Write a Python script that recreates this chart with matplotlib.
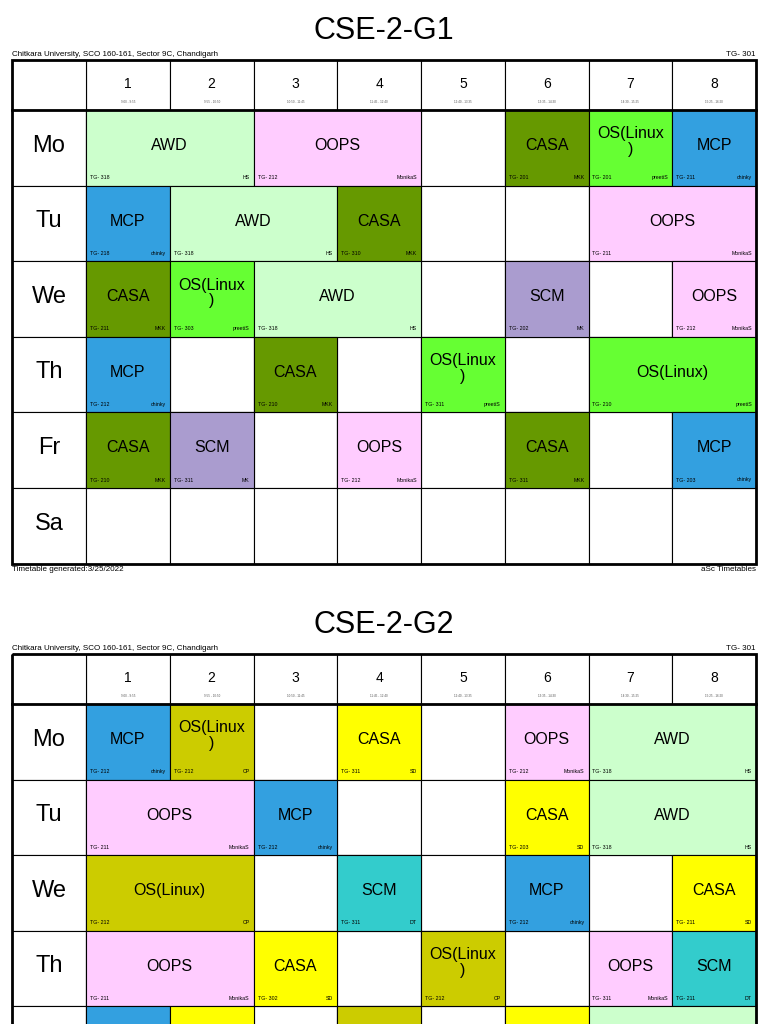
import matplotlib
matplotlib.use("Agg")
import matplotlib.pyplot as plt
from matplotlib.patches import Rectangle

days = ["Mo", "Tu", "We", "Th", "Fr", "Sa"]
periods = ["1", "2", "3", "4", "5", "6", "7", "8"]
times = ["9:00 - 9:55", "9:55 - 10:50", "10:50 - 11:45", "11:45 - 12:40",
         "12:40 - 13:35", "13:35 - 14:30", "14:30 - 15:25", "15:25 - 16:20"]

colors_g1 = {"AWD": "#ccffcc", "OOPS": "#ffccff", "CASA": "#669900",
             "OS(Linux)": "#66ff33", "MCP": "#33a0e0", "SCM": "#aa9ccf"}
colors_g2 = {"AWD": "#ccffcc", "OOPS": "#ffccff", "CASA": "#ffff00",
             "OS(Linux)": "#cccc00", "MCP": "#33a0e0", "SCM": "#33cccc"}

# (day index, start period index, span, subject, room, teacher)
g1_lessons = [
    (0, 0, 2, "AWD", "TG- 318", "HS"), (0, 2, 2, "OOPS", "TG- 212", "MonikaS"),
    (0, 5, 1, "CASA", "TG- 201", "MKK"), (0, 6, 1, "OS(Linux)", "TG- 201", "preetiS"),
    (0, 7, 1, "MCP", "TG- 211", "chinky"),
    (1, 0, 1, "MCP", "TG- 218", "chinky"), (1, 1, 2, "AWD", "TG- 318", "HS"),
    (1, 3, 1, "CASA", "TG- 310", "MKK"), (1, 6, 2, "OOPS", "TG- 211", "MonikaS"),
    (2, 0, 1, "CASA", "TG- 211", "MKK"), (2, 1, 1, "OS(Linux)", "TG- 303", "preetiS"),
    (2, 2, 2, "AWD", "TG- 318", "HS"), (2, 5, 1, "SCM", "TG- 202", "MK"),
    (2, 7, 1, "OOPS", "TG- 212", "MonikaS"),
    (3, 0, 1, "MCP", "TG- 212", "chinky"), (3, 2, 1, "CASA", "TG- 210", "MKK"),
    (3, 4, 1, "OS(Linux)", "TG- 311", "preetiS"), (3, 6, 2, "OS(Linux)", "TG- 210", "preetiS"),
    (4, 0, 1, "CASA", "TG- 210", "MKK"), (4, 1, 1, "SCM", "TG- 311", "MK"),
    (4, 3, 1, "OOPS", "TG- 212", "MonikaS"), (4, 5, 1, "CASA", "TG- 311", "MKK"),
    (4, 7, 1, "MCP", "TG- 203", "chinky"),
]
g2_lessons = [
    (0, 0, 1, "MCP", "TG- 212", "chinky"), (0, 1, 1, "OS(Linux)", "TG- 212", "CP"),
    (0, 3, 1, "CASA", "TG- 311", "SD"), (0, 5, 1, "OOPS", "TG- 212", "MonikaS"),
    (0, 6, 2, "AWD", "TG- 318", "HS"),
    (1, 0, 2, "OOPS", "TG- 211", "MonikaS"), (1, 2, 1, "MCP", "TG- 212", "chinky"),
    (1, 5, 1, "CASA", "TG- 203", "SD"), (1, 6, 2, "AWD", "TG- 318", "HS"),
    (2, 0, 2, "OS(Linux)", "TG- 212", "CP"), (2, 3, 1, "SCM", "TG- 311", "DT"),
    (2, 5, 1, "MCP", "TG- 212", "chinky"), (2, 7, 1, "CASA", "TG- 211", "SD"),
    (3, 0, 2, "OOPS", "TG- 211", "MonikaS"), (3, 2, 1, "CASA", "TG- 302", "SD"),
    (3, 4, 1, "OS(Linux)", "TG- 212", "CP"), (3, 6, 1, "OOPS", "TG- 311", "MonikaS"),
    (3, 7, 1, "SCM", "TG- 211", "DT"),
    (4, 0, 1, "MCP", "", ""), (4, 1, 1, "CASA", "", ""),
    (4, 3, 1, "OS(Linux)", "", ""), (4, 5, 1, "CASA", "", ""),
    (4, 6, 2, "AWD", "", ""),
]

W, H = 768, 1024
fig = plt.figure(figsize=(W / 100, H / 100), dpi=100)
ax = fig.add_axes([0, 0, 1, 1])
ax.set_xlim(0, W)
ax.set_ylim(H, 0)
ax.axis("off")

L, R = 12, 756
DAYW = 74
CW = (R - L - DAYW) / len(periods)
HH = 50
RH = 75.6
font = "Liberation Sans"


def txt(x, y, s, **kw):
    if y < H - 5:
        ax.text(x, y, s, family=font, **kw)


def draw(top, title, lessons, colors, footer=True):
    ax.text(W / 2, top - 29, title, ha="center", va="center", fontsize=22, family=font)
    ax.text(L, top - 2, "Chitkara University, SCO 160-161, Sector 9C, Chandigarh",
            fontsize=5.8, family=font, va="bottom")
    ax.text(R, top - 2, "TG- 301", fontsize=5.8, family=font, va="bottom", ha="right")
    x0 = L + DAYW
    for j, p in enumerate(periods):
        x = x0 + j * CW
        ax.add_patch(Rectangle((x, top), CW, HH, fc="white", ec="black", lw=0.8))
        ax.text(x + CW / 2, top + 24, p, ha="center", va="center", fontsize=10, family=font)
        ax.text(x + CW / 2, top + 42, times[j], ha="center", va="center", fontsize=2.2,
                family=font, color="#555555")
    ax.add_patch(Rectangle((L, top), DAYW, HH, fc="white", ec="black", lw=0.8))
    y0 = top + HH
    for i, d in enumerate(days):
        y = y0 + i * RH
        ax.add_patch(Rectangle((L, y), DAYW, RH, fc="white", ec="black", lw=0.8))
        txt(L + DAYW / 2, y + RH * 0.47, d, ha="center", va="center", fontsize=17)
        for j in range(len(periods)):
            ax.add_patch(Rectangle((x0 + j * CW, y), CW, RH, fc="white", ec="black", lw=0.8))
    for (di, pi, span, subj, room, teacher) in lessons:
        x = x0 + pi * CW
        y = y0 + di * RH
        w = span * CW
        ax.add_patch(Rectangle((x, y), w, RH, fc=colors[subj], ec="black", lw=0.8, zorder=2))
        if span == 1 and subj == "OS(Linux)":
            txt(x + w / 2, y + RH * 0.42, "OS(Linux\n)", ha="center", va="center",
                fontsize=11.5, linespacing=1.05, zorder=3)
        else:
            txt(x + w / 2, y + RH * 0.47, subj, ha="center", va="center",
                fontsize=11.5, zorder=3)
        txt(x + 4, y + RH - 8, room, ha="left", va="center", fontsize=3.8, zorder=3)
        txt(x + w - 4, y + RH - 8, teacher, ha="right", va="center", fontsize=3.8, zorder=3)
    bottom = y0 + len(days) * RH
    ax.add_patch(Rectangle((L, top), R - L, bottom - top, fc="none", ec="black", lw=2, zorder=4))
    ax.plot([L, R], [y0, y0], color="black", lw=2, zorder=4)
    if footer:
        ax.text(L, bottom + 6, "Timetable generated:3/25/2022", fontsize=5.8, family=font, va="center")
        ax.text(R, bottom + 6, "aSc Timetables", fontsize=5.8, family=font, va="center", ha="right")


draw(60, "CSE-2-G1", g1_lessons, colors_g1)
draw(654, "CSE-2-G2", g2_lessons, colors_g2, footer=False)

fig.savefig("out.png", dpi=100)
